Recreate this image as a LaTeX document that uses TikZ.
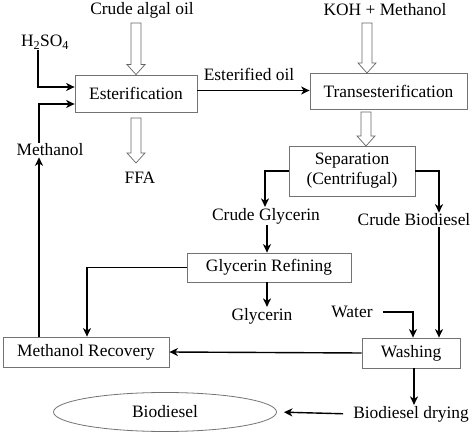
\documentclass[tikz,border=0pt]{standalone}
\usepackage{fontspec}
\setmainfont{Liberation Serif}
\usetikzlibrary{arrows.meta,calc,shapes.geometric}
\newcommand\hollowarr[2]{\draw[hol] let \p1=(#1), \p2=(#2) in
  (\x1-5pt,\y1) -- (\x1+5pt,\y1) -- (\x1+5pt,\y2+10pt) -- (\x1+9pt,\y2+10pt) --
  (\x1,\y2) -- (\x1-9pt,\y2+10pt) -- (\x1-5pt,\y2+10pt) -- cycle;}
\begin{document}
\begin{tikzpicture}[x=1pt,y=-1pt,
  font=\fontsize{17.4}{20}\selectfont,
  box/.style={draw=black!55,line width=0.8pt,inner sep=0pt,align=center},
  lbl/.style={inner sep=1pt},
  arr/.style={line width=1.4pt,-{Stealth[length=8.5pt,width=8pt,inset=2.5pt]}},
  hol/.style={draw=black!60,line width=0.7pt,fill=white}]
\useasboundingbox (0,0) rectangle (474,435);
% boxes
\node[box,minimum width=122pt,minimum height=37pt] (ester) at (136,93.5) {Esterification};
\node[box,minimum width=157pt,minimum height=36pt] (trans) at (388.5,91) {Transesterification};
\node[box,minimum width=126pt,minimum height=50pt] (sep) at (352,171) {Separation\\(Centrifugal)};
\node[box,minimum width=164pt,minimum height=29pt] (glyref) at (269,267.5) {Glycerin Refining};
\node[box,minimum width=166pt,minimum height=30pt] (mrec) at (86,352) {Methanol Recovery};
\node[box,minimum width=98pt,minimum height=30pt] (wash) at (411,353) {Washing};
\node[draw=black!55,line width=0.8pt,ellipse,inner sep=0pt,minimum width=223pt,minimum height=39pt] (bio) at (165,412) {Biodiesel};
% labels
\node[lbl] (oil) at (142,10) {Crude algal oil};
\node[lbl] (koh) at (385,10) {KOH + Methanol};
\node[lbl] (h2so4) at (45,42) {H\textsubscript{2}SO\textsubscript{4}};
\node[lbl] (meth) at (50,150) {Methanol};
\node[lbl] (ffa) at (140,178) {FFA};
\node[lbl] (eoil) at (249,74) {Esterified oil};
\node[lbl] (cglyc) at (266,216) {Crude Glycerin};
\node[lbl] (cbio) at (414,220) {Crude Biodiesel};
\node[lbl] (glyc) at (262,316) {Glycerin};
\node[lbl] (water) at (352,312) {Water};
\node[lbl] (dry) at (411,414) {Biodiesel drying};
\coordinate (mx) at (39,0);
\coordinate (bx) at (439,0);
% hollow arrows
\coordinate (oilS) at (136,23);
\hollowarr{oilS}{ester.north}
\coordinate (kohS) at (367,23);
\coordinate (kohE) at (367,73);
\hollowarr{kohS}{kohE}
\coordinate (ffaS) at (136,118);
\coordinate (ffaE) at (136,163);
\hollowarr{ffaS}{ffaE}
\coordinate (trS) at (366,112);
\coordinate (trE) at (366,146);
\hollowarr{trS}{trE}
% solid connectors
\draw[arr] ([xshift=-7pt]h2so4.south) |- ([yshift=6.5pt]ester.west);
\draw[arr] (mx |- meth.north) |- ([yshift=-10.5pt]ester.west);
\draw[arr] (mx |- mrec.north) -- (mx |- meth.south);
\draw[arr] ([yshift=3pt]ester.east) -- ([yshift=3pt]ester.east -| trans.west);
\draw[arr] (sep.west) -| ([xshift=-1pt]cglyc.north);
\draw[arr] (sep.east) -| (bx |- cbio.north);
\draw[arr] (bx |- cbio.south) -- (bx |- wash.north);
\draw[arr] ([xshift=-2pt]glyref.north |- cglyc.south) -- ([xshift=-2pt]glyref.north);
\draw[arr] ([xshift=-2pt]glyref.south) -- ([xshift=-2pt]glyref.south |- glyc.north);
\draw[arr] (glyref.west) -| ([xshift=1pt]mrec.north);
\draw[arr] (wash.west) -- (mrec.east);
\draw[arr,shorten <=9pt] (water.east) -| ([xshift=2pt]wash.north);
\draw[arr] ([xshift=3pt]wash.south) -- ([xshift=3pt]wash.south |- dry.north);
\draw[arr,shorten >=7pt,shorten <=9pt] (dry.west) -- (bio.east);
\end{tikzpicture}
\end{document}
